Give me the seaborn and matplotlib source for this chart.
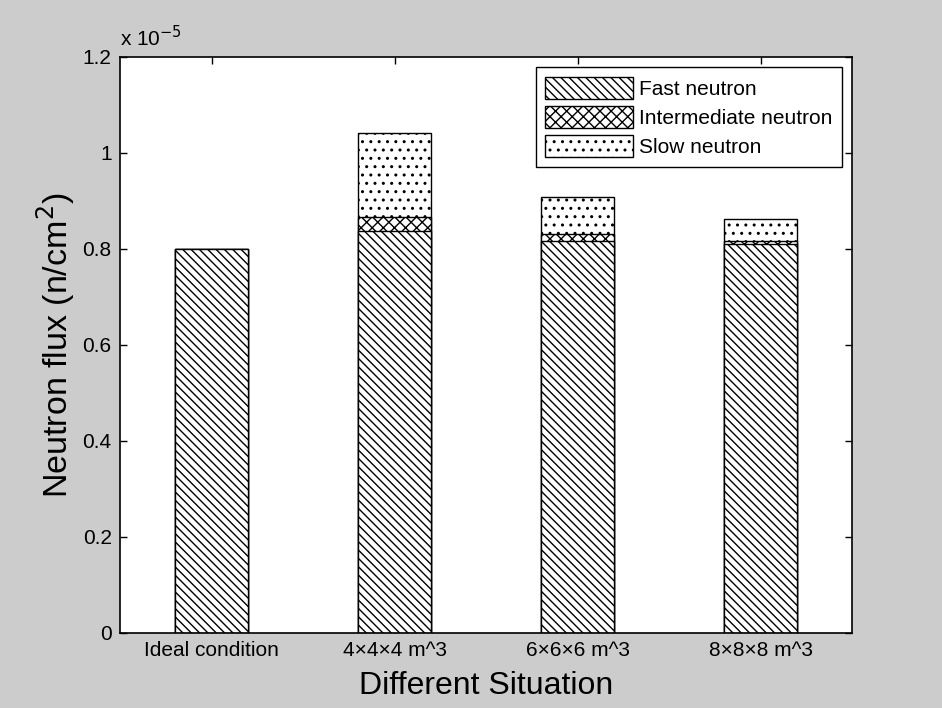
import seaborn as sns
import matplotlib.pyplot as plt
import matplotlib.patches as mpatches
import numpy as np
import pandas as pd

# values in units of 1e-5 n/cm^2
situations = ["Ideal condition", "4×4×4 m^3", "6×6×6 m^3", "8×8×8 m^3"]
fast = [0.800, 0.838, 0.817, 0.810]
intermediate = [0.000, 0.028, 0.014, 0.007]
slow = [0.000, 0.175, 0.077, 0.046]

sns.set_style("white")
plt.rcParams["font.family"] = ["Liberation Sans", "DejaVu Sans"]
plt.rcParams["hatch.linewidth"] = 1.0
plt.rcParams["text.color"] = "black"
plt.rcParams["axes.labelcolor"] = "black"

gray = "#cccccc"
fig = plt.figure(figsize=(9.42, 7.08), dpi=100, facecolor=gray)
ax = fig.add_axes([0.1274, 0.106, 0.7771, 0.8135])

fast = np.array(fast)
mid_top = fast + np.array(intermediate)
total = mid_top + np.array(slow)

# stacked bars drawn back to front
layers = [("Slow neutron", total, ".."),
          ("Intermediate neutron", mid_top, "xxx"),
          ("Fast neutron", fast, "\\\\\\\\")]
for name, vals, hatch in layers:
    df = pd.DataFrame({"situation": situations, "value": vals})
    sns.barplot(data=df, x="situation", y="value", ax=ax, color="white",
                saturation=1, width=0.4, edgecolor="black", linewidth=1.0,
                hatch=hatch)

ax.set_xlim(-0.5, 3.5)
ax.set_ylim(0, 1.2)
ax.set_yticks(np.arange(0, 1.21, 0.2))
ax.set_yticklabels(["0", "0.2", "0.4", "0.6", "0.8", "1", "1.2"])
ax.tick_params(direction="in", length=5, width=1, labelsize=15, colors="black",
               top=True, right=True, bottom=True, left=True, pad=6)
for s in ax.spines.values():
    s.set_color("black")
    s.set_linewidth(1.2)

ax.set_xlabel("Different Situation", fontsize=23, labelpad=8)
ax.set_ylabel("Neutron flux (n/cm$^2$)", fontsize=24.5, labelpad=4)
ax.text(0.0, 1.012, "x 10$^{-5}$", transform=ax.transAxes, fontsize=15,
        ha="left", va="bottom")

handles = [mpatches.Patch(facecolor="white", edgecolor="black", hatch=h, label=n)
           for n, _, h in [layers[2], layers[1], layers[0]]]
leg = ax.legend(handles=handles, loc="upper right", fontsize=15, frameon=True,
                fancybox=False, framealpha=1, edgecolor="black",
                handlelength=4.2, handleheight=1.25, borderaxespad=0.5,
                handletextpad=0.3, labelspacing=0.35, borderpad=0.45)

fig.savefig("out.png", dpi=100, facecolor=gray)
